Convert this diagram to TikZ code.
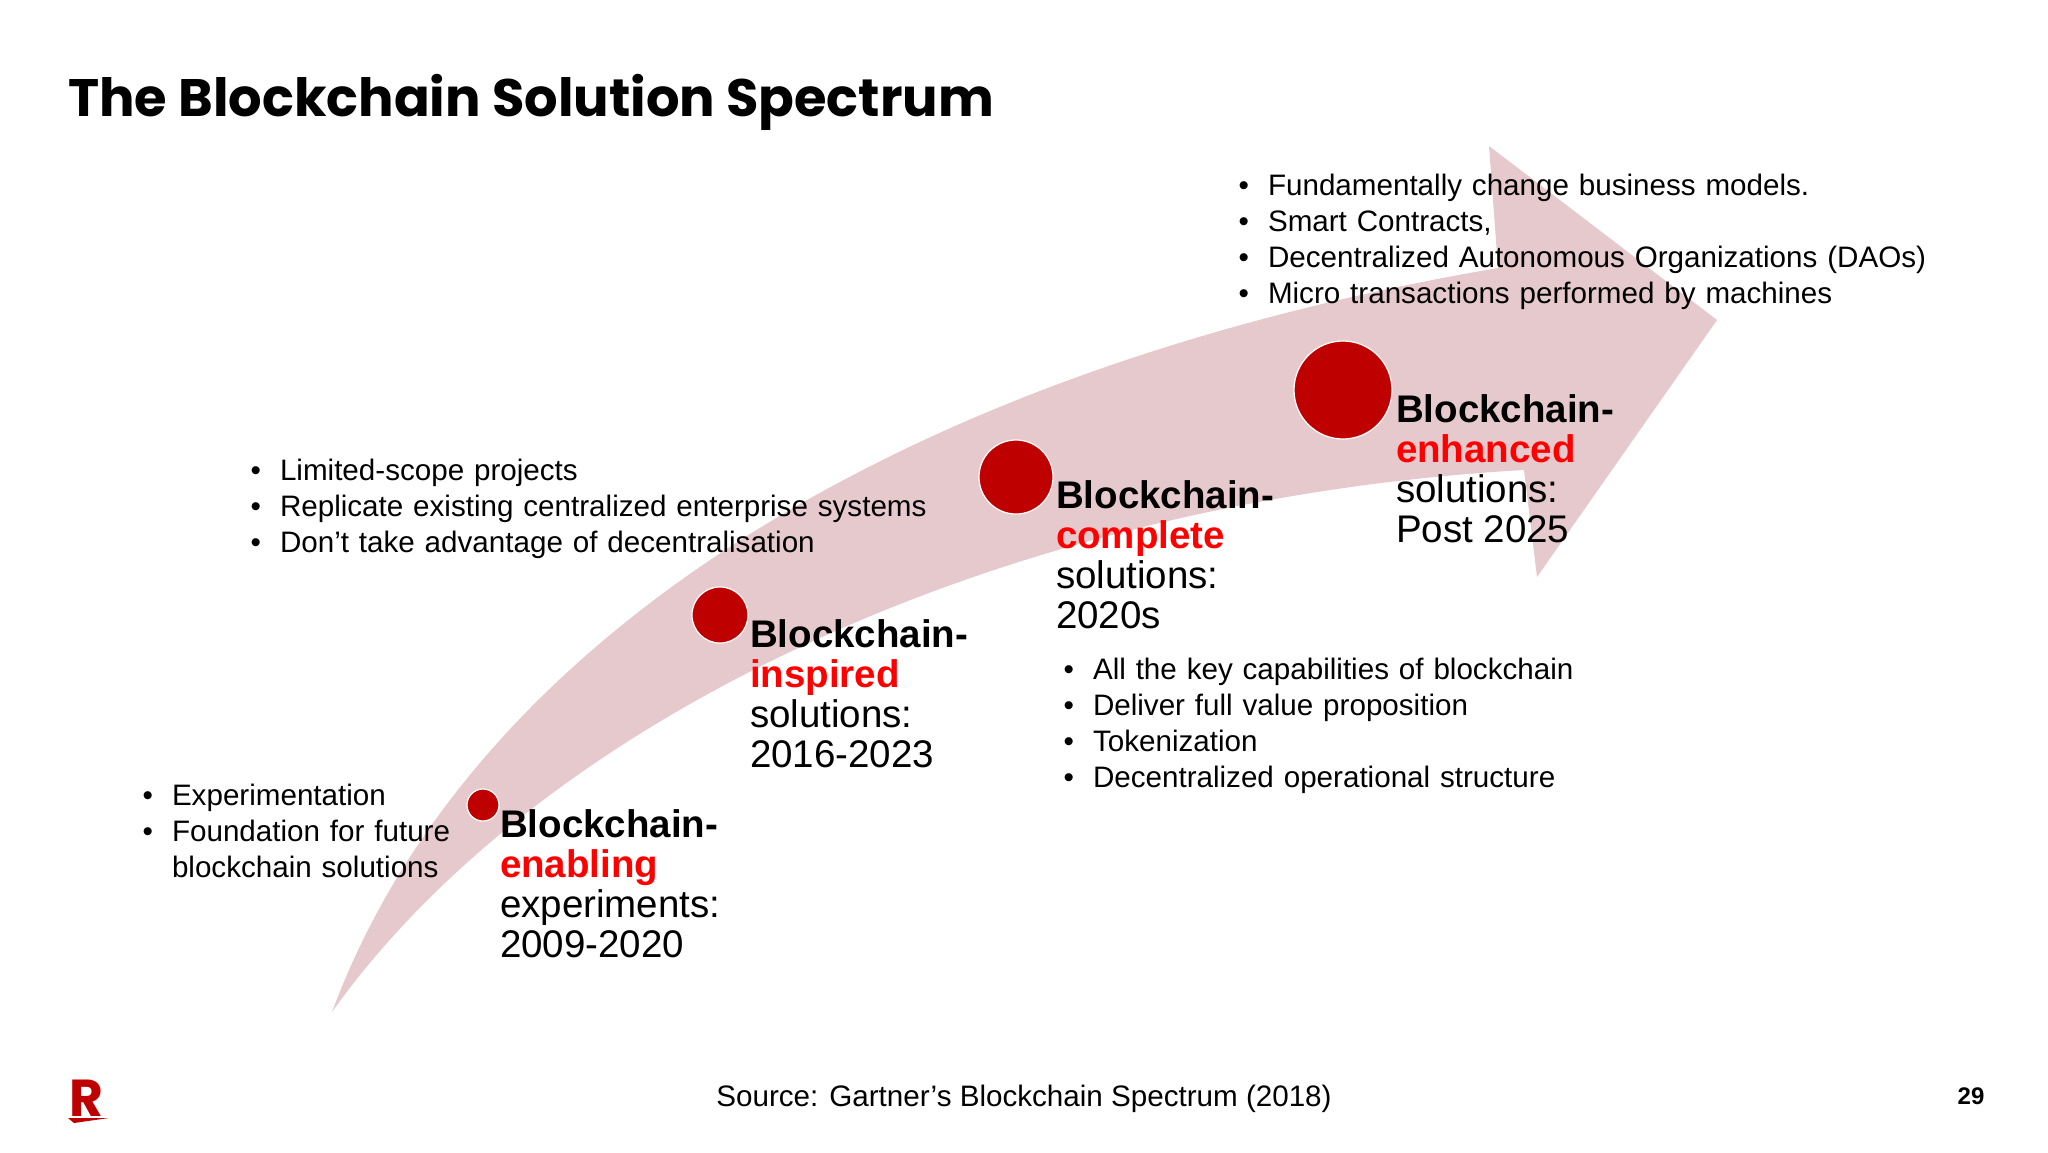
\documentclass[tikz,border=0pt]{standalone}
\usepackage{fontspec}
\usepackage{enumitem}
\setmainfont{Liberation Sans}
\newfontfamily\titlefont{Poppins}
\usetikzlibrary{positioning}
\definecolor{rakred}{HTML}{BF0000}
\definecolor{swoosh}{HTML}{E6C9CD}
\definecolor{hotred}{HTML}{FF0000}

\begin{document}
\begin{tikzpicture} [x=1pt, y=-1pt, inner sep=0pt, outer sep=0pt,
	dot/.style={circle, fill=rakred, draw=white, line width=1.2pt},
	stage/.style={anchor=north west, align=left, font=\fontsize{38.5}{39.8}\selectfont},
	points/.style={anchor=north west, text width=760pt, font=\fontsize{29.6}{36}\selectfont}]
	\useasboundingbox (0,0) rectangle (2048,1152);
	% big arrow
	\fill [swoosh] (332,1012) .. controls (470,640) and (900,370) .. (1498,268) -- (1489,146) -- (1717,320) -- (1537,577) -- (1524,470) .. controls (1000,500) and (540,720) .. (332,1012);

	% title
	\node [anchor=west, font=\titlefont\bfseries\fontsize{52.7}{60}\selectfont] (title) at (68,102) {The Blockchain Solution Spectrum};

	% dots
	\node [dot, minimum size=32pt] (dot1) at (483,805) {};
	\node [dot, minimum size=56pt] (dot2) at (720,615) {};
	\node [dot, minimum size=74pt] (dot3) at (1016,477) {};
	\node [dot, minimum size=98pt] (dot4) at (1343,390) {};

	% stage labels
	\node [stage, below right=5pt and 17pt of dot1.center] (stage1) {\textbf{Blockchain-}\\ \textcolor{hotred}{\textbf{enabling}}\\ experiments:\\ 2009-2020};
	\node [stage, below right=5pt and 30pt of dot2.center] (stage2) {\textbf{Blockchain-}\\ \textcolor{hotred}{\textbf{inspired}}\\ solutions:\\ 2016-2023};
	\node [stage, below right=4pt and 40pt of dot3.center] (stage3) {\textbf{Blockchain-}\\ \textcolor{hotred}{\textbf{complete}}\\ solutions:\\ 2020s};
	\node [stage, below right=5pt and 53pt of dot4.center] (stage4) {\textbf{Blockchain-}\\ \textcolor{hotred}{\textbf{enhanced}}\\ solutions:\\ Post 2025};

	% bullet lists
	\node [points, text width=360pt] (list1) at (141,769) {\begin{itemize}[nosep, leftmargin=31pt, labelsep=19pt]
		\item Experimentation
		\item Foundation for future\\ blockchain solutions
	\end{itemize}};
	\node [points] (list2) at (249,444) {\begin{itemize}[nosep, leftmargin=31pt, labelsep=19pt]
		\item Limited-scope projects
		\item Replicate existing centralized enterprise systems
		\item Don’t take advantage of decentralisation
	\end{itemize}};
	\node [points] (list3) at (1062,643) {\begin{itemize}[nosep, leftmargin=31pt, labelsep=19pt]
		\item All the key capabilities of blockchain
		\item Deliver full value proposition
		\item Tokenization
		\item Decentralized operational structure
	\end{itemize}};
	\node [points] (list4) at (1237,159) {\begin{itemize}[nosep, leftmargin=31pt, labelsep=19pt]
		\item Fundamentally change business models.
		\item Smart Contracts,
		\item Decentralized Autonomous Organizations (DAOs)
		\item Micro transactions performed by machines
	\end{itemize}};

	% footer
	\node [font=\fontsize{29.6}{36}\selectfont] (source) at (1024,1099) {Source: Gartner’s Blockchain Spectrum (2018)};
	\node [font=\bfseries\fontsize{24}{28}\selectfont] (page) at (1971,1096) {29};
	\node [anchor=south west, text=rakred, font=\titlefont\bfseries\fontsize{52}{52}\selectfont] (logo) at (69,1116) {R};
	\fill [rakred] (68,1118) -- (109,1118) -- (74,1123) -- cycle;
\end{tikzpicture}
\end{document}
